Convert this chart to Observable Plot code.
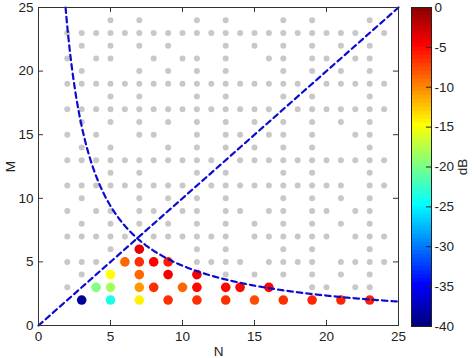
<!DOCTYPE html>
<html><head><meta charset="utf-8">
<script src="https://cdn.jsdelivr.net/npm/d3@7"></script>
<script src="https://cdn.jsdelivr.net/npm/@observablehq/plot@0.6"></script>
<style>
body{margin:0;background:#fff;}
#wrap{position:relative;width:474px;height:358px;font-family:"Liberation Sans",Arial,sans-serif;background:#fff;}
#main{position:absolute;left:0;top:0;}
#cbar{position:absolute;left:400px;top:0;}
</style></head><body><div id="wrap"><div id="main"></div><div id="cbar"></div></div>
<script>
// Axis ticks
const xTicks = [0, 5, 10, 15, 20, 25];
const yTicks = [0, 5, 10, 15, 20, 25];
const cTicks = [0, -5, -10, -15, -20, -25, -30, -35, -40];

// Gray (untested) grid points: one list of N per row M
const grayM = [3, 4, 5, 6, 7, 8, 9, 10, 11, 12, 13, 14, 15, 16, 17, 18, 19, 20, 21, 22, 23, 24];
const grayN = [
  [2, 19, 20, 22, 23],
  [3, 13, 15, 17, 19, 21, 23],
  [2, 3, 4, 11, 12, 13, 14, 16, 17, 18, 19, 21, 22, 23, 24],
  [5, 11, 13, 17, 19, 23],
  [2, 3, 4, 5, 6, 8, 9, 10, 11, 12, 13, 15, 16, 17, 18, 19, 20, 22, 23, 24],
  [3, 5, 7, 9, 11, 13, 15, 17, 19, 21, 23],
  [2, 4, 5, 7, 8, 10, 11, 13, 14, 16, 17, 19, 20, 22, 23],
  [3, 7, 9, 11, 13, 17, 19, 21, 23],
  [2, 3, 4, 5, 6, 7, 8, 9, 10, 12, 13, 14, 15, 16, 17, 18, 19, 20, 21, 23, 24],
  [5, 7, 11, 13, 17, 19, 23],
  [2, 3, 4, 5, 6, 7, 8, 9, 10, 11, 12, 14, 15, 16, 17, 18, 19, 20, 21, 22, 23, 24],
  [3, 5, 9, 11, 13, 15, 17, 19, 23],
  [2, 4, 7, 8, 11, 13, 14, 16, 17, 19, 22, 23],
  [3, 5, 7, 9, 11, 13, 15, 17, 19, 21, 23],
  [2, 3, 4, 5, 6, 7, 8, 9, 10, 11, 12, 13, 14, 15, 16, 18, 19, 20, 21, 22, 23, 24],
  [5, 7, 11, 13, 17, 19, 23],
  [2, 3, 4, 5, 6, 7, 8, 9, 10, 11, 12, 13, 14, 15, 16, 17, 18, 20, 21, 22, 23, 24],
  [3, 7, 9, 11, 13, 17, 19, 21, 23],
  [2, 4, 5, 8, 10, 11, 13, 16, 17, 19, 20, 22, 23],
  [3, 5, 7, 9, 13, 15, 17, 19, 21, 23],
  [2, 3, 4, 5, 6, 7, 8, 9, 10, 11, 12, 13, 14, 15, 16, 17, 18, 19, 20, 21, 22, 24],
  [5, 7, 11, 13, 17, 19, 23]
];

// Measured points (colored, dB)
const colorN  = [3, 5, 7, 9, 11, 13, 15, 17, 19, 21, 23,
                 4, 5, 7, 8, 10, 11, 13, 14, 16,
                 5, 7, 9, 11,
                 6, 7, 8, 9,
                 7];
const colorM  = [2, 2, 2, 2, 2, 2, 2, 2, 2, 2, 2,
                 3, 3, 3, 3, 3, 3, 3, 3, 3,
                 4, 4, 4, 4,
                 5, 5, 5, 5,
                 6];
const colorDb = [-39, -24, -14.5, -6.8, -6.8, -6.8, -8, -6.8, -6.5, -6.5, -6.2,
                 -20, -18.5, -11, -6.8, -9, -5.2, -5.2, -5.2, -5.2,
                 -15, -9, -4.6, -4.6,
                 -9, -6.8, -5, -6,
                 -4];

// Bound curve M = K / N and diagonal M = N
const boundK = 47;
const diagN = [0, 25];
const diagM = [0, 25];

const jet = {type: "linear", domain: [-40, -35, -25, -15, -5, 0],
  range: ["#000080", "#0000ff", "#00ffff", "#ffff00", "#ff0000", "#800000"], interpolate: "rgb"};

const grayPts = grayM.flatMap((m, i) => grayN[i].map(n => ({N: n, M: m})));
const colorPts = colorN.map((n, i) => ({N: n, M: colorM[i], db: colorDb[i]}));
const curve = d3.range(boundK / 25, 25.001, 0.05).map(n => ({N: n, M: boundK / n}));
const diag = diagN.map((n, i) => ({N: n, M: diagM[i]}));

const axisCol = "#333";
const lineCol = "#0c0cd0";
const font = {fontFamily: "'Liberation Sans', Arial, sans-serif", fontSize: "13.5px", color: "#222", background: "transparent", overflow: "visible"};

const main = Plot.plot({
  width: 400, height: 358,
  marginLeft: 38, marginRight: 2, marginTop: 7, marginBottom: 33,
  style: font,
  x: {domain: [0, 25]},
  y: {domain: [0, 25]},
  color: jet,
  marks: [
    Plot.dot(grayPts, {x: "N", y: "M", r: 3, fill: "#c8c8c8"}),
    Plot.dot(colorPts, {x: "N", y: "M", r: 4.8, fill: "db"}),
    Plot.line(curve, {x: "N", y: "M", stroke: lineCol, strokeWidth: 2.2, strokeDasharray: "5.5,4"}),
    Plot.line(diag, {x: "N", y: "M", stroke: lineCol, strokeWidth: 2.2, strokeDasharray: "5.5,4"}),
    Plot.ruleX(xTicks, {x: d => d, y1: 0, y2: 0.4, stroke: axisCol}),
    Plot.ruleX(xTicks, {x: d => d, y1: 24.6, y2: 25, stroke: axisCol}),
    Plot.ruleY(yTicks, {y: d => d, x1: 0, x2: 0.35, stroke: axisCol}),
    Plot.ruleY(yTicks, {y: d => d, x1: 24.65, x2: 25, stroke: axisCol}),
    Plot.frame({stroke: axisCol}),
    Plot.axisX({ticks: xTicks, tickSize: 0, tickPadding: 6, label: "N", labelAnchor: "center", labelOffset: 30, labelArrow: "none"}),
    Plot.axisY({ticks: yTicks, tickSize: 0, tickPadding: 5, label: "M", labelAnchor: "center", labelOffset: 33, labelArrow: "none"})
  ]
});
document.getElementById("main").appendChild(main);

const ramp = d3.range(-40, 0, 0.5);
const cbar = Plot.plot({
  width: 74, height: 358,
  marginLeft: 11, marginRight: 43, marginTop: 7, marginBottom: 32,
  style: font,
  x: {domain: [0, 1], axis: null},
  y: {domain: [-40, 0]},
  color: jet,
  marks: [
    Plot.rect(ramp, {x1: 0, x2: 1, y1: d => d, y2: d => Math.min(0, d + 0.6), fill: d => d}),
    Plot.ruleY(cTicks, {y: d => d, x1: 0.75, x2: 1, stroke: "#222"}),
    Plot.frame({stroke: "#222"}),
    Plot.axisY({anchor: "right", ticks: cTicks, tickSize: 0, tickPadding: 3, tickFormat: d => String(d), label: "dB", labelAnchor: "center", labelOffset: 35, labelArrow: "none"})
  ]
});
document.getElementById("cbar").appendChild(cbar);
</script></body></html>
